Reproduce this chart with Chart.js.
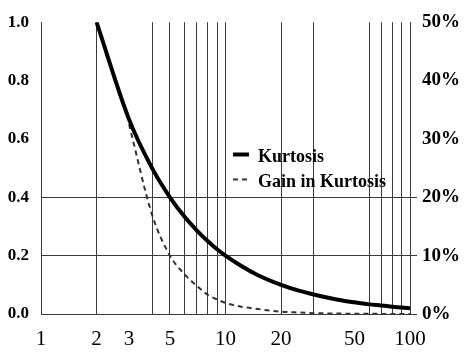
<!DOCTYPE html>
<html>
<head>
<meta charset="utf-8">
<script src="https://cdn.jsdelivr.net/npm/chart.js@4"></script>
<style>
html,body{margin:0;padding:0;background:#fff;}
#wrap{position:relative;width:474px;height:356px;}
</style>
</head>
<body>
<div id="wrap"><canvas id="c"></canvas></div>
<script>
// ---- data ----
const kurtN = [2,3,4,5,6,7,8,9,10,12,15,20,25,30,40,50,60,70,80,90,100];
const kurtValues = [1.0,0.667,0.5,0.4,0.333,0.286,0.25,0.222,0.2,0.167,0.133,0.1,0.08,0.067,0.05,0.04,0.033,0.029,0.025,0.022,0.02];
const gainN = [3,4,5,6,7,8,9,10,12,15,20,25,30,40,50,60,70,80,90,100];
const gainValues = [32.5,17,10,6.8,4.8,3.3,2.5,1.9,1.3,0.85,0.4,0.25,0.15,0.08,0.05,0.03,0.02,0.015,0.01,0.01]; // percent
const xTickValues = [1,2,3,4,5,6,7,8,9,10,20,30,40,50,60,70,80,90,100];
const xTickLabels = [1,2,3,5,10,20,50,100];
const xHiddenGrid = [3,40,50];
const leftGridShown = [0.2,0.4];
const rightTickShown = [0,10,20];
const seriesNames = ['Kurtosis','Gain in Kurtosis'];

const kurtData = kurtN.map((n,i)=>({x:n,y:kurtValues[i]}));
const gainData = gainN.map((n,i)=>({x:n,y:gainValues[i]}));

const GRID = '#3a3a3a';
const SERIF = '"Liberation Serif","Times New Roman",serif';

const legendPlugin = {
  id:'fixedLegend',
  afterDatasetsDraw(chart){
    const ctx = chart.ctx;
    ctx.save();
    const x0 = 233, x1 = 249, tx = 258;
    const rows = [161.5, 186.5];
    chart.data.datasets.forEach((ds,i)=>{
      const base = rows[i];
      const my = base - 7;
      ctx.strokeStyle = ds.borderColor;
      ctx.lineWidth = i===0 ? 4 : 2;
      ctx.setLineDash(i===0 ? [] : [5,4]);
      ctx.beginPath(); ctx.moveTo(x0,my); ctx.lineTo(x1,my); ctx.stroke();
      ctx.setLineDash([]);
      ctx.fillStyle = '#000';
      ctx.font = 'bold 18px ' + SERIF;
      ctx.textBaseline = 'alphabetic';
      ctx.textAlign = 'left';
      ctx.fillText(ds.label, tx, base);
    });
    ctx.restore();
  }
};

new Chart(document.getElementById('c'), {
  type:'line',
  data:{
    datasets:[
      {label:seriesNames[0], data:kurtData, yAxisID:'y', borderColor:'#000', borderWidth:4, pointRadius:0, cubicInterpolationMode:'monotone', fill:false},
      {label:seriesNames[1], data:gainData, yAxisID:'y1', borderColor:'#333', borderWidth:2, borderDash:[5,4], pointRadius:0, cubicInterpolationMode:'monotone', fill:false}
    ]
  },
  options:{
    responsive:true, maintainAspectRatio:false, animation:false,
    layout:{padding:{top:19,left:0,right:0,bottom:0}},
    plugins:{legend:{display:false}, tooltip:{enabled:false}},
    scales:{
      x:{
        type:'logarithmic', min:1, max:100, position:'bottom',
        afterBuildTicks(s){ s.ticks = xTickValues.map(v=>({value:v})); },
        afterFit(s){ s.height = 42; },
        grid:{drawTicks:false, lineWidth:1, color(ctx){ const v=ctx.tick && ctx.tick.value; return xHiddenGrid.includes(v) ? 'rgba(0,0,0,0)' : GRID; }},
        border:{display:true, color:GRID, width:1},
        ticks:{autoSkip:false, maxRotation:0, padding:13, color:'#000', font:{family:SERIF, size:21},
          callback(v){ return xTickLabels.includes(v) ? String(v) : ''; }}
      },
      y:{
        type:'linear', position:'left', min:0, max:1,
        afterFit(s){ s.width = 41; },
        grid:{drawTicks:false, lineWidth:1, color(ctx){ const v=ctx.tick && ctx.tick.value; return leftGridShown.some(g=>Math.abs(g-v)<1e-6) ? GRID : 'rgba(0,0,0,0)'; }},
        border:{display:true, color:GRID, width:1},
        ticks:{stepSize:0.2, padding:12, color:'#000', font:{family:SERIF, size:17, weight:'bold'},
          callback(v){ return Number(v).toFixed(1); }}
      },
      y1:{
        type:'linear', position:'right', min:0, max:50,
        afterFit(s){ s.width = 64; },
        grid:{drawOnChartArea:false, drawTicks:true, tickLength:7, lineWidth:1, color(ctx){ const v=ctx.tick && ctx.tick.value; return rightTickShown.includes(v) ? GRID : 'rgba(0,0,0,0)'; }},
        border:{display:true, color:GRID, width:1},
        ticks:{stepSize:10, padding:5, color:'#000', font:{family:SERIF, size:19, weight:'bold'},
          callback(v){ return v + '%'; }}
      }
    }
  },
  plugins:[legendPlugin]
});
</script>
</body>
</html>
